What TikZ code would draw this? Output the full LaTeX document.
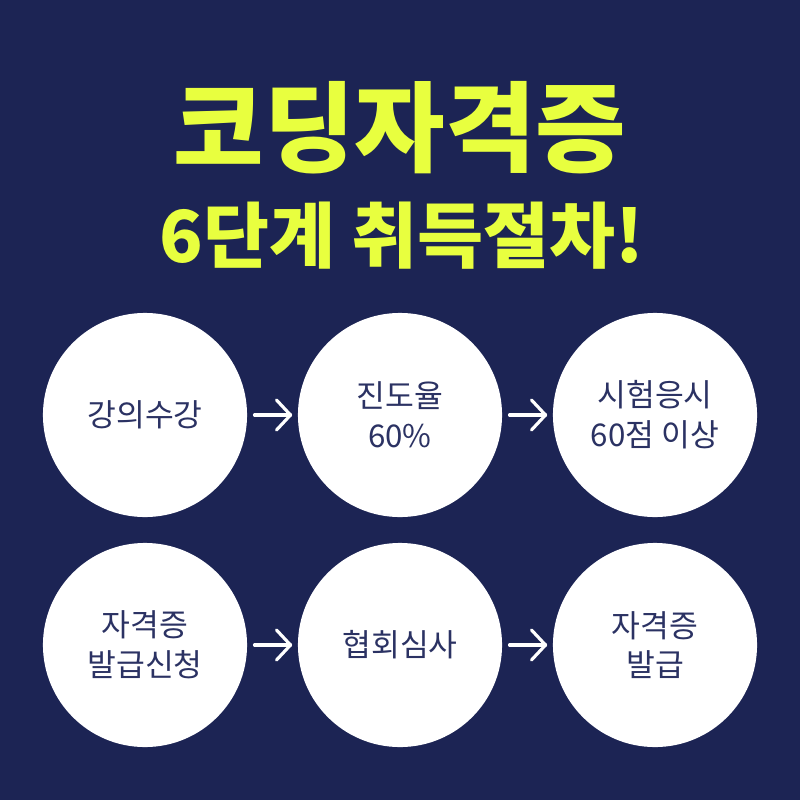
\documentclass[tikz,border=0pt]{standalone}
\usepackage{fontspec}
\newfontfamily\kr{Noto Sans CJK KR}
\definecolor{bg}{HTML}{1C2454}
\definecolor{ttl}{HTML}{E8FF3F}
\definecolor{txt}{HTML}{2B3263}
\begin{document}
\begin{tikzpicture}[x=0.01cm,y=-0.01cm,
  stage/.style={circle,fill=white,minimum size=2.04cm,inner sep=0pt,align=center,text=txt,font=\kr\fontsize{8.9pt}{11.3pt}\selectfont},
  arr/.style={white,line width=0.9pt,line cap=round,line join=round}]
\fill[bg] (0,0) rectangle (800,800);
\node[text=ttl,font=\kr\bfseries\fontsize{28pt}{32pt}\selectfont] (t1) at (400,128) {코딩자격증};
\node[text=ttl,font=\kr\bfseries\fontsize{20.4pt}{24pt}\selectfont] (t2) at (402,236) {6단계 취득절차!};
\node[stage] (a) at (145,415) {강의수강};
\node[stage] (b) at (400,415) {진도율\\60\%};
\node[stage] (c) at (655,415) {시험응시\\60점 이상};
\node[stage] (d) at (145,645) {자격증\\발급신청};
\node[stage] (e) at (400,645) {협회심사};
\node[stage] (f) at (655,645) {자격증\\발급};
\foreach \p/\q in {a/b,b/c,d/e,e/f}{
  \path (\p.east) -- (\q.west) coordinate[pos=0.5] (m\p);
  \draw[arr] ([xshift=-0.18cm]m\p) -- ([xshift=0.18cm]m\p);
  \draw[arr] ([xshift=0.04cm,yshift=0.15cm]m\p) -- ([xshift=0.18cm]m\p) -- ([xshift=0.04cm,yshift=-0.15cm]m\p);
}
\end{tikzpicture}
\end{document}
